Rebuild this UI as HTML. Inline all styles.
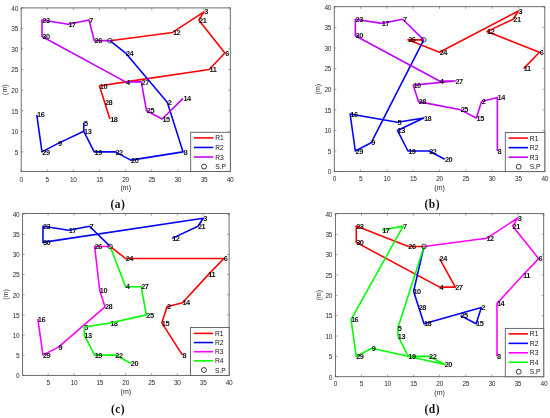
<!DOCTYPE html>
<html lang="en"><head><meta charset="utf-8"><title>Routes</title>
<style>
html,body{margin:0;padding:0;background:#fff;}
body{width:550px;height:418px;overflow:hidden;}
svg{display:block;}
text{font-family:"Liberation Sans",sans-serif;}
.tk{font-size:6.5px;fill:#2a2a2a;letter-spacing:-0.3px;}
.al{font-size:7px;fill:#2a2a2a;}
.nd{font-size:7.4px;font-weight:bold;fill:#000;fill-opacity:0.95;letter-spacing:-0.5px;}
.lg{font-size:6.7px;fill:#111;}
.cap{font-family:"Liberation Serif",serif;font-weight:bold;font-size:11.5px;fill:#111;letter-spacing:0.45px;}
</style></head><body>
<svg width="550" height="418" viewBox="0 0 550 418">
<rect width="550" height="418" fill="#fff"/>
<g class="plot" id="plot-a">
<rect x="21.20" y="7.90" width="209.10" height="163.60" fill="#fff" stroke="#5c5c5c" stroke-width="0.9"/>
<text class="tk" x="21.10" y="181.50" text-anchor="middle">0</text>
<text class="tk" x="47.23" y="181.50" text-anchor="middle">5</text>
<text class="tk" x="73.35" y="181.50" text-anchor="middle">10</text>
<text class="tk" x="99.47" y="181.50" text-anchor="middle">15</text>
<text class="tk" x="125.60" y="181.50" text-anchor="middle">20</text>
<text class="tk" x="151.72" y="181.50" text-anchor="middle">25</text>
<text class="tk" x="177.85" y="181.50" text-anchor="middle">30</text>
<text class="tk" x="203.97" y="181.50" text-anchor="middle">35</text>
<text class="tk" x="230.10" y="181.50" text-anchor="middle">40</text>
<text class="tk" x="18.00" y="154.70" text-anchor="end">5</text>
<text class="tk" x="18.00" y="134.10" text-anchor="end">10</text>
<text class="tk" x="18.00" y="113.50" text-anchor="end">15</text>
<text class="tk" x="18.00" y="92.90" text-anchor="end">20</text>
<text class="tk" x="18.00" y="72.30" text-anchor="end">25</text>
<text class="tk" x="18.00" y="51.70" text-anchor="end">30</text>
<text class="tk" x="18.00" y="31.10" text-anchor="end">35</text>
<text class="tk" x="18.00" y="10.50" text-anchor="end">40</text>
<path d="M21.10 171.50v-2.1M21.10 7.90v2.1M47.23 171.50v-2.1M47.23 7.90v2.1M73.35 171.50v-2.1M73.35 7.90v2.1M99.47 171.50v-2.1M99.47 7.90v2.1M125.60 171.50v-2.1M125.60 7.90v2.1M151.72 171.50v-2.1M151.72 7.90v2.1M177.85 171.50v-2.1M177.85 7.90v2.1M203.97 171.50v-2.1M203.97 7.90v2.1M230.10 171.50v-2.1M230.10 7.90v2.1M21.20 151.90h2.1M230.30 151.90h-2.1M21.20 131.30h2.1M230.30 131.30h-2.1M21.20 110.70h2.1M230.30 110.70h-2.1M21.20 90.10h2.1M230.30 90.10h-2.1M21.20 69.50h2.1M230.30 69.50h-2.1M21.20 48.90h2.1M230.30 48.90h-2.1M21.20 28.30h2.1M230.30 28.30h-2.1M21.20 7.70h2.1M230.30 7.70h-2.1" stroke="#5c5c5c" stroke-width="0.55" fill="none"/>
<text class="al" x="125.75" y="190.40" text-anchor="middle">(m)</text>
<text class="al" transform="translate(6.70 89.70) rotate(-90)" text-anchor="middle">(m)</text>
<polyline points="109.92,40.66 172.62,32.42 203.97,11.82 198.75,20.06 224.87,53.02 209.20,69.50 125.60,81.86 99.47,85.98 104.70,102.46 109.92,118.94" fill="none" stroke="#ff0000" stroke-width="1.58" stroke-linejoin="round"/>
<polyline points="109.92,40.66 125.60,53.02 167.40,102.46 183.07,151.90 130.82,160.14 115.15,151.90 94.25,151.90 83.80,131.30 83.80,123.06 83.80,131.30 57.67,143.66 42.00,151.90 36.77,114.82" fill="none" stroke="#0000ff" stroke-width="1.58" stroke-linejoin="round"/>
<polyline points="109.92,40.66 94.25,40.66 89.03,20.06 68.12,24.18 42.00,20.06 42.00,36.54 125.60,81.86 141.28,81.86 146.50,110.70 162.17,118.94 183.07,98.34" fill="none" stroke="#c600ff" stroke-width="1.58" stroke-linejoin="round"/>
<text class="nd" x="167.70" y="105.11">2</text>
<text class="nd" x="204.28" y="14.47">3</text>
<text class="nd" x="125.90" y="84.51">4</text>
<text class="nd" x="84.10" y="125.71">5</text>
<text class="nd" x="225.17" y="55.67">6</text>
<text class="nd" x="89.33" y="22.71">7</text>
<text class="nd" x="183.38" y="154.55">8</text>
<text class="nd" x="57.97" y="146.31">9</text>
<text class="nd" x="99.77" y="88.63">10</text>
<text class="nd" x="209.50" y="72.15">11</text>
<text class="nd" x="172.92" y="35.07">12</text>
<text class="nd" x="84.10" y="133.95">13</text>
<text class="nd" x="183.38" y="100.99">14</text>
<text class="nd" x="162.47" y="121.59">15</text>
<text class="nd" x="37.07" y="117.47">16</text>
<text class="nd" x="68.42" y="26.83">17</text>
<text class="nd" x="110.22" y="121.59">18</text>
<text class="nd" x="94.55" y="154.55">19</text>
<text class="nd" x="131.12" y="162.79">20</text>
<text class="nd" x="199.05" y="22.71">21</text>
<text class="nd" x="115.45" y="154.55">22</text>
<text class="nd" x="42.30" y="22.71">23</text>
<text class="nd" x="125.90" y="55.67">24</text>
<text class="nd" x="146.80" y="113.35">25</text>
<text class="nd" x="94.55" y="43.31">26</text>
<text class="nd" x="141.58" y="84.51">27</text>
<text class="nd" x="105.00" y="105.11">28</text>
<text class="nd" x="42.30" y="154.55">29</text>
<text class="nd" x="42.30" y="39.19">30</text>
<circle cx="109.92" cy="40.66" r="2.35" fill="none" stroke="#111" stroke-width="0.75"/>
<rect x="190.70" y="132.30" width="39.60" height="39.20" fill="#fff" stroke="#5c5c5c" stroke-width="0.9"/>
<path d="M194.00 137.90h19.4" stroke="#ff0000" stroke-width="1.58"/>
<text class="lg" x="215.20" y="140.40">R1</text>
<path d="M194.00 147.45h19.4" stroke="#0000ff" stroke-width="1.58"/>
<text class="lg" x="215.20" y="149.95">R2</text>
<path d="M194.00 157.00h19.4" stroke="#c600ff" stroke-width="1.58"/>
<text class="lg" x="215.20" y="159.50">R3</text>
<circle cx="204.10" cy="166.55" r="2.45" fill="none" stroke="#222" stroke-width="0.9"/>
<text class="lg" x="215.20" y="169.05">S.P</text>
<text class="cap" x="117.9" y="207.7" text-anchor="middle">(a)</text>
</g>
<g class="plot" id="plot-b">
<rect x="334.30" y="6.70" width="210.50" height="164.90" fill="#fff" stroke="#5c5c5c" stroke-width="0.9"/>
<text class="tk" x="334.30" y="180.90" text-anchor="middle">0</text>
<text class="tk" x="360.60" y="180.90" text-anchor="middle">5</text>
<text class="tk" x="386.90" y="180.90" text-anchor="middle">10</text>
<text class="tk" x="413.20" y="180.90" text-anchor="middle">15</text>
<text class="tk" x="439.50" y="180.90" text-anchor="middle">20</text>
<text class="tk" x="465.80" y="180.90" text-anchor="middle">25</text>
<text class="tk" x="492.10" y="180.90" text-anchor="middle">30</text>
<text class="tk" x="518.40" y="180.90" text-anchor="middle">35</text>
<text class="tk" x="544.70" y="180.90" text-anchor="middle">40</text>
<text class="tk" x="331.10" y="174.40" text-anchor="end">0</text>
<text class="tk" x="331.10" y="153.81" text-anchor="end">5</text>
<text class="tk" x="331.10" y="133.23" text-anchor="end">10</text>
<text class="tk" x="331.10" y="112.64" text-anchor="end">15</text>
<text class="tk" x="331.10" y="92.05" text-anchor="end">20</text>
<text class="tk" x="331.10" y="71.46" text-anchor="end">25</text>
<text class="tk" x="331.10" y="50.88" text-anchor="end">30</text>
<text class="tk" x="331.10" y="30.29" text-anchor="end">35</text>
<text class="tk" x="331.10" y="9.70" text-anchor="end">40</text>
<path d="M334.30 171.60v-2.1M334.30 6.70v2.1M360.60 171.60v-2.1M360.60 6.70v2.1M386.90 171.60v-2.1M386.90 6.70v2.1M413.20 171.60v-2.1M413.20 6.70v2.1M439.50 171.60v-2.1M439.50 6.70v2.1M465.80 171.60v-2.1M465.80 6.70v2.1M492.10 171.60v-2.1M492.10 6.70v2.1M518.40 171.60v-2.1M518.40 6.70v2.1M544.70 171.60v-2.1M544.70 6.70v2.1M334.30 171.60h2.1M544.80 171.60h-2.1M334.30 151.01h2.1M544.80 151.01h-2.1M334.30 130.43h2.1M544.80 130.43h-2.1M334.30 109.84h2.1M544.80 109.84h-2.1M334.30 89.25h2.1M544.80 89.25h-2.1M334.30 68.66h2.1M544.80 68.66h-2.1M334.30 48.08h2.1M544.80 48.08h-2.1M334.30 27.49h2.1M544.80 27.49h-2.1M334.30 6.90h2.1M544.80 6.90h-2.1" stroke="#5c5c5c" stroke-width="0.55" fill="none"/>
<text class="al" x="439.55" y="189.80" text-anchor="middle">(m)</text>
<text class="al" transform="translate(319.80 89.15) rotate(-90)" text-anchor="middle">(m)</text>
<polyline points="423.72,39.84 407.94,39.84 439.50,52.19 518.40,11.02 513.14,19.25 486.84,31.60 539.44,52.19 523.66,68.66" fill="none" stroke="#ff0000" stroke-width="1.58" stroke-linejoin="round"/>
<polyline points="423.72,39.84 371.12,142.78 355.34,151.01 350.08,113.95 397.42,122.19 423.72,118.07 397.42,130.43 407.94,151.01 428.98,151.01 444.76,159.25" fill="none" stroke="#0000ff" stroke-width="1.58" stroke-linejoin="round"/>
<polyline points="423.72,39.84 402.68,19.25 381.64,23.37 355.34,19.25 355.34,35.72 439.50,81.02 455.28,81.02 413.20,85.13 418.46,101.60 460.54,109.84 476.32,118.07 481.58,101.60 497.36,97.48 497.36,151.01" fill="none" stroke="#c600ff" stroke-width="1.58" stroke-linejoin="round"/>
<text class="nd" x="481.78" y="104.25">2</text>
<text class="nd" x="518.60" y="13.67">3</text>
<text class="nd" x="439.70" y="83.67">4</text>
<text class="nd" x="397.62" y="124.84">5</text>
<text class="nd" x="539.64" y="54.84">6</text>
<text class="nd" x="402.88" y="21.90">7</text>
<text class="nd" x="497.56" y="153.66">8</text>
<text class="nd" x="371.32" y="145.43">9</text>
<text class="nd" x="413.40" y="87.78">10</text>
<text class="nd" x="523.86" y="71.31">11</text>
<text class="nd" x="487.04" y="34.25">12</text>
<text class="nd" x="397.62" y="133.08">13</text>
<text class="nd" x="497.56" y="100.14">14</text>
<text class="nd" x="476.52" y="120.72">15</text>
<text class="nd" x="350.28" y="116.61">16</text>
<text class="nd" x="381.84" y="26.02">17</text>
<text class="nd" x="423.92" y="120.72">18</text>
<text class="nd" x="408.14" y="153.66">19</text>
<text class="nd" x="444.96" y="161.90">20</text>
<text class="nd" x="513.34" y="21.90">21</text>
<text class="nd" x="429.18" y="153.66">22</text>
<text class="nd" x="355.54" y="21.90">23</text>
<text class="nd" x="439.70" y="54.84">24</text>
<text class="nd" x="460.74" y="112.49">25</text>
<text class="nd" x="408.14" y="42.49">26</text>
<text class="nd" x="455.48" y="83.67">27</text>
<text class="nd" x="418.66" y="104.25">28</text>
<text class="nd" x="355.54" y="153.66">29</text>
<text class="nd" x="355.54" y="38.37">30</text>
<circle cx="423.72" cy="39.84" r="2.35" fill="none" stroke="#111" stroke-width="0.75"/>
<rect x="505.30" y="132.50" width="39.50" height="39.10" fill="#fff" stroke="#5c5c5c" stroke-width="0.9"/>
<path d="M508.60 138.10h19.4" stroke="#ff0000" stroke-width="1.58"/>
<text class="lg" x="529.80" y="140.60">R1</text>
<path d="M508.60 147.65h19.4" stroke="#0000ff" stroke-width="1.58"/>
<text class="lg" x="529.80" y="150.15">R2</text>
<path d="M508.60 157.20h19.4" stroke="#c600ff" stroke-width="1.58"/>
<text class="lg" x="529.80" y="159.70">R3</text>
<circle cx="518.70" cy="166.75" r="2.45" fill="none" stroke="#222" stroke-width="0.9"/>
<text class="lg" x="529.80" y="169.25">S.P</text>
<text class="cap" x="432.3" y="208.0" text-anchor="middle">(b)</text>
</g>
<g class="plot" id="plot-c">
<rect x="22.60" y="213.50" width="206.50" height="161.90" fill="#fff" stroke="#5c5c5c" stroke-width="0.9"/>
<text class="tk" x="48.14" y="385.40" text-anchor="middle">5</text>
<text class="tk" x="73.97" y="385.40" text-anchor="middle">10</text>
<text class="tk" x="99.81" y="385.40" text-anchor="middle">15</text>
<text class="tk" x="125.65" y="385.40" text-anchor="middle">20</text>
<text class="tk" x="151.49" y="385.40" text-anchor="middle">25</text>
<text class="tk" x="177.32" y="385.40" text-anchor="middle">30</text>
<text class="tk" x="203.16" y="385.40" text-anchor="middle">35</text>
<text class="tk" x="229.00" y="385.40" text-anchor="middle">40</text>
<text class="tk" x="19.40" y="378.10" text-anchor="end">0</text>
<text class="tk" x="19.40" y="357.96" text-anchor="end">5</text>
<text class="tk" x="19.40" y="337.82" text-anchor="end">10</text>
<text class="tk" x="19.40" y="317.69" text-anchor="end">15</text>
<text class="tk" x="19.40" y="297.55" text-anchor="end">20</text>
<text class="tk" x="19.40" y="277.41" text-anchor="end">25</text>
<text class="tk" x="19.40" y="257.27" text-anchor="end">30</text>
<text class="tk" x="19.40" y="237.14" text-anchor="end">35</text>
<text class="tk" x="19.40" y="217.00" text-anchor="end">40</text>
<path d="M48.14 375.40v-2.1M48.14 213.50v2.1M73.97 375.40v-2.1M73.97 213.50v2.1M99.81 375.40v-2.1M99.81 213.50v2.1M125.65 375.40v-2.1M125.65 213.50v2.1M151.49 375.40v-2.1M151.49 213.50v2.1M177.32 375.40v-2.1M177.32 213.50v2.1M203.16 375.40v-2.1M203.16 213.50v2.1M229.00 375.40v-2.1M229.00 213.50v2.1M22.60 375.30h2.1M229.10 375.30h-2.1M22.60 355.16h2.1M229.10 355.16h-2.1M22.60 335.02h2.1M229.10 335.02h-2.1M22.60 314.89h2.1M229.10 314.89h-2.1M22.60 294.75h2.1M229.10 294.75h-2.1M22.60 274.61h2.1M229.10 274.61h-2.1M22.60 254.47h2.1M229.10 254.47h-2.1M22.60 234.34h2.1M229.10 234.34h-2.1M22.60 214.20h2.1M229.10 214.20h-2.1" stroke="#5c5c5c" stroke-width="0.55" fill="none"/>
<text class="al" x="125.85" y="394.30" text-anchor="middle">(m)</text>
<text class="al" transform="translate(8.10 294.45) rotate(-90)" text-anchor="middle">(m)</text>
<text class="nd" x="110.15" y="325.59">18</text>
<text class="nd" x="84.31" y="329.62">5</text>
<polyline points="110.15,246.42 125.65,258.50 223.83,258.50 208.33,274.61 182.49,302.81 166.99,306.83 161.82,322.94 182.49,355.16" fill="none" stroke="#ff0000" stroke-width="1.58" stroke-linejoin="round"/>
<polyline points="110.15,246.42 89.48,226.28 68.81,230.31 42.97,226.28 42.97,242.39 203.16,218.23 198.00,226.28 172.16,238.36" fill="none" stroke="#0000ff" stroke-width="1.58" stroke-linejoin="round"/>
<polyline points="110.15,246.42 94.64,246.42 99.81,290.72 104.98,306.83 58.47,347.11 42.97,355.16 37.80,318.92" fill="none" stroke="#ff00ff" stroke-width="1.58" stroke-linejoin="round"/>
<polyline points="110.15,246.42 125.65,286.69 141.15,286.69 146.32,314.89 110.15,322.94 84.31,326.97 84.31,335.02 94.64,355.16 115.31,355.16 130.82,363.22" fill="none" stroke="#00ff00" stroke-width="1.58" stroke-linejoin="round"/>
<text class="nd" x="166.99" y="309.48">2</text>
<text class="nd" x="203.16" y="220.88">3</text>
<text class="nd" x="125.65" y="289.34">4</text>
<text class="nd" x="223.83" y="261.15">6</text>
<text class="nd" x="89.48" y="228.93">7</text>
<text class="nd" x="182.49" y="357.81">8</text>
<text class="nd" x="58.47" y="349.76">9</text>
<text class="nd" x="99.81" y="293.37">10</text>
<text class="nd" x="208.33" y="277.26">11</text>
<text class="nd" x="172.16" y="241.01">12</text>
<text class="nd" x="84.31" y="337.67">13</text>
<text class="nd" x="182.49" y="305.45">14</text>
<text class="nd" x="161.82" y="325.59">15</text>
<text class="nd" x="37.80" y="321.56">16</text>
<text class="nd" x="68.81" y="232.96">17</text>
<text class="nd" x="94.64" y="357.81">19</text>
<text class="nd" x="130.82" y="365.87">20</text>
<text class="nd" x="198.00" y="228.93">21</text>
<text class="nd" x="115.31" y="357.81">22</text>
<text class="nd" x="42.97" y="228.93">23</text>
<text class="nd" x="125.65" y="261.15">24</text>
<text class="nd" x="146.32" y="317.54">25</text>
<text class="nd" x="94.64" y="249.07">26</text>
<text class="nd" x="141.15" y="289.34">27</text>
<text class="nd" x="104.98" y="309.48">28</text>
<text class="nd" x="42.97" y="357.81">29</text>
<text class="nd" x="42.97" y="245.04">30</text>
<circle cx="110.15" cy="246.42" r="2.35" fill="none" stroke="#111" stroke-width="0.75"/>
<rect x="190.50" y="327.50" width="38.60" height="47.90" fill="#fff" stroke="#5c5c5c" stroke-width="0.9"/>
<path d="M193.80 333.40h19.4" stroke="#ff0000" stroke-width="1.58"/>
<text class="lg" x="215.00" y="335.90">R1</text>
<path d="M193.80 342.55h19.4" stroke="#0000ff" stroke-width="1.58"/>
<text class="lg" x="215.00" y="345.05">R2</text>
<path d="M193.80 351.70h19.4" stroke="#ff00ff" stroke-width="1.58"/>
<text class="lg" x="215.00" y="354.20">R3</text>
<path d="M193.80 360.85h19.4" stroke="#00ff00" stroke-width="1.58"/>
<text class="lg" x="215.00" y="363.35">R4</text>
<circle cx="203.90" cy="370.00" r="2.45" fill="none" stroke="#222" stroke-width="0.9"/>
<text class="lg" x="215.00" y="372.50">S.P</text>
<text class="cap" x="118.1" y="413" text-anchor="middle">(c)</text>
</g>
<g class="plot" id="plot-d">
<rect x="335.40" y="213.60" width="208.30" height="163.10" fill="#fff" stroke="#5c5c5c" stroke-width="0.9"/>
<text class="tk" x="335.40" y="386.10" text-anchor="middle">0</text>
<text class="tk" x="361.46" y="386.10" text-anchor="middle">5</text>
<text class="tk" x="387.52" y="386.10" text-anchor="middle">10</text>
<text class="tk" x="413.59" y="386.10" text-anchor="middle">15</text>
<text class="tk" x="439.65" y="386.10" text-anchor="middle">20</text>
<text class="tk" x="465.71" y="386.10" text-anchor="middle">25</text>
<text class="tk" x="491.77" y="386.10" text-anchor="middle">30</text>
<text class="tk" x="517.84" y="386.10" text-anchor="middle">35</text>
<text class="tk" x="543.90" y="386.10" text-anchor="middle">40</text>
<text class="tk" x="332.20" y="379.50" text-anchor="end">0</text>
<text class="tk" x="332.20" y="359.15" text-anchor="end">5</text>
<text class="tk" x="332.20" y="338.80" text-anchor="end">10</text>
<text class="tk" x="332.20" y="318.45" text-anchor="end">15</text>
<text class="tk" x="332.20" y="298.10" text-anchor="end">20</text>
<text class="tk" x="332.20" y="277.75" text-anchor="end">25</text>
<text class="tk" x="332.20" y="257.40" text-anchor="end">30</text>
<text class="tk" x="332.20" y="237.05" text-anchor="end">35</text>
<text class="tk" x="332.20" y="216.70" text-anchor="end">40</text>
<path d="M335.40 376.70v-2.1M335.40 213.60v2.1M361.46 376.70v-2.1M361.46 213.60v2.1M387.52 376.70v-2.1M387.52 213.60v2.1M413.59 376.70v-2.1M413.59 213.60v2.1M439.65 376.70v-2.1M439.65 213.60v2.1M465.71 376.70v-2.1M465.71 213.60v2.1M491.77 376.70v-2.1M491.77 213.60v2.1M517.84 376.70v-2.1M517.84 213.60v2.1M543.90 376.70v-2.1M543.90 213.60v2.1M335.40 376.70h2.1M543.70 376.70h-2.1M335.40 356.35h2.1M543.70 356.35h-2.1M335.40 336.00h2.1M543.70 336.00h-2.1M335.40 315.65h2.1M543.70 315.65h-2.1M335.40 295.30h2.1M543.70 295.30h-2.1M335.40 274.95h2.1M543.70 274.95h-2.1M335.40 254.60h2.1M543.70 254.60h-2.1M335.40 234.25h2.1M543.70 234.25h-2.1M335.40 213.90h2.1M543.70 213.90h-2.1" stroke="#5c5c5c" stroke-width="0.55" fill="none"/>
<text class="al" x="439.55" y="394.80" text-anchor="middle">(m)</text>
<text class="al" transform="translate(320.90 295.15) rotate(-90)" text-anchor="middle">(m)</text>
<polyline points="424.01,246.46 408.38,246.46 356.25,226.11 356.25,242.39 439.65,287.16 455.29,287.16 439.65,258.67" fill="none" stroke="#ff0000" stroke-width="1.58" stroke-linejoin="round"/>
<polyline points="424.01,246.46 413.59,291.23 424.01,323.79 481.35,307.51 476.14,323.79 460.50,315.65" fill="none" stroke="#0000ff" stroke-width="1.58" stroke-linejoin="round"/>
<polyline points="424.01,246.46 486.56,238.32 517.84,217.97 512.62,226.11 538.69,258.67 523.05,274.95 496.99,303.44 496.99,356.35" fill="none" stroke="#ff00ff" stroke-width="1.58" stroke-linejoin="round"/>
<polyline points="424.01,246.46 397.95,327.86 397.95,336.00 408.38,356.35 429.22,356.35 444.86,364.49 371.89,348.21 356.25,356.35 351.04,319.72 403.16,226.11 382.31,230.18" fill="none" stroke="#00ff00" stroke-width="1.58" stroke-linejoin="round"/>
<text class="nd" x="481.25" y="310.16">2</text>
<text class="nd" x="517.74" y="220.62">3</text>
<text class="nd" x="439.55" y="289.81">4</text>
<text class="nd" x="397.85" y="330.51">5</text>
<text class="nd" x="538.59" y="261.32">6</text>
<text class="nd" x="403.06" y="228.76">7</text>
<text class="nd" x="496.89" y="359.00">8</text>
<text class="nd" x="371.79" y="350.86">9</text>
<text class="nd" x="413.49" y="293.88">10</text>
<text class="nd" x="522.95" y="277.60">11</text>
<text class="nd" x="486.46" y="240.97">12</text>
<text class="nd" x="397.85" y="338.65">13</text>
<text class="nd" x="496.89" y="306.09">14</text>
<text class="nd" x="476.04" y="326.44">15</text>
<text class="nd" x="350.94" y="322.37">16</text>
<text class="nd" x="382.21" y="232.83">17</text>
<text class="nd" x="423.91" y="326.44">18</text>
<text class="nd" x="408.27" y="359.00">19</text>
<text class="nd" x="444.76" y="367.14">20</text>
<text class="nd" x="512.52" y="228.76">21</text>
<text class="nd" x="429.12" y="359.00">22</text>
<text class="nd" x="356.15" y="228.76">23</text>
<text class="nd" x="439.55" y="261.32">24</text>
<text class="nd" x="460.40" y="318.30">25</text>
<text class="nd" x="408.27" y="249.11">26</text>
<text class="nd" x="455.19" y="289.81">27</text>
<text class="nd" x="418.70" y="310.16">28</text>
<text class="nd" x="356.15" y="359.00">29</text>
<text class="nd" x="356.15" y="245.04">30</text>
<circle cx="424.01" cy="246.46" r="2.35" fill="none" stroke="#111" stroke-width="0.75"/>
<rect x="505.30" y="328.40" width="38.40" height="48.30" fill="#fff" stroke="#5c5c5c" stroke-width="0.9"/>
<path d="M508.60 333.90h19.4" stroke="#ff0000" stroke-width="1.58"/>
<text class="lg" x="529.80" y="336.40">R1</text>
<path d="M508.60 343.35h19.4" stroke="#0000ff" stroke-width="1.58"/>
<text class="lg" x="529.80" y="345.85">R2</text>
<path d="M508.60 352.80h19.4" stroke="#ff00ff" stroke-width="1.58"/>
<text class="lg" x="529.80" y="355.30">R3</text>
<path d="M508.60 362.25h19.4" stroke="#00ff00" stroke-width="1.58"/>
<text class="lg" x="529.80" y="364.75">R4</text>
<circle cx="518.70" cy="371.70" r="2.45" fill="none" stroke="#222" stroke-width="0.9"/>
<text class="lg" x="529.80" y="374.20">S.P</text>
<text class="cap" x="432.3" y="412.5" text-anchor="middle">(d)</text>
</g>
</svg>
</body></html>
